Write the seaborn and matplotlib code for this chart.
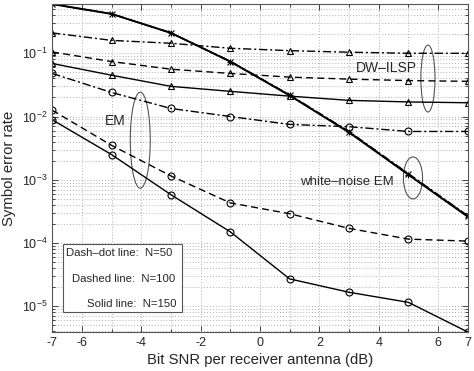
import matplotlib
matplotlib.use('Agg')
import matplotlib.pyplot as plt
import seaborn as sns
import numpy as np
import pandas as pd
from matplotlib.patches import Ellipse
from matplotlib.ticker import LogLocator, NullFormatter

snr = [-7, -5, -3, -1, 1, 3, 5, 7]

# DW-ILSP (triangles)
dw_n50 = [0.21, 0.16, 0.144, 0.12, 0.11, 0.104, 0.10, 0.10]
dw_n100 = [0.105, 0.074, 0.056, 0.048, 0.042, 0.039, 0.037, 0.036]
dw_n150 = [0.069, 0.045, 0.030, 0.025, 0.021, 0.018, 0.017, 0.0165]

# EM (circles)
em_n50 = [0.048, 0.024, 0.0134, 0.010, 0.0075, 0.0069, 0.0058, 0.0058]
em_n100 = [0.0126, 0.0035, 0.00115, 4.3e-4, 2.9e-4, 1.7e-4, 1.15e-4, 1.07e-4]
em_n150 = [0.0089, 0.0025, 5.8e-4, 1.5e-4, 2.7e-5, 1.66e-5, 1.15e-5, 3.9e-6]

# white-noise EM (nearly identical for all N)
wn_n50 = [0.60, 0.42, 0.21, 0.075, 0.0220, 0.0058, 0.00125, 2.7e-4]
wn_n100 = [0.60, 0.42, 0.21, 0.074, 0.0216, 0.0057, 0.00122, 2.65e-4]
wn_n150 = [0.60, 0.42, 0.21, 0.074, 0.0215, 0.0056, 0.0012, 2.6e-4]

xticks = [-7, -6, -4, -2, 0, 2, 4, 6, 7]

series = [
    ('dw50', dw_n50, (0, (6, 2, 1.5, 2)), '^', 1.0),
    ('dw100', dw_n100, (0, (5, 3)), '^', 1.0),
    ('dw150', dw_n150, '-', '^', 1.0),
    ('em50', em_n50, (0, (6, 2, 1.5, 2)), 'o', 1.0),
    ('em100', em_n100, (0, (5, 3)), 'o', 1.0),
    ('em150', em_n150, '-', 'o', 1.0),
    ('wn50', wn_n50, (0, (6, 2, 1.5, 2)), 'None', 1.0),
    ('wn100', wn_n100, (0, (5, 3)), 'x', 1.0),
    ('wn150', wn_n150, '-', '+', 1.4),
]

rows = []
for name, vals, _, _, _ in series:
    for x, y in zip(snr, vals):
        rows.append({'snr': x, 'ser': y, 'series': name})
df = pd.DataFrame(rows)

sns.set_style('white')
plt.rcParams['font.family'] = ['Liberation Sans', 'DejaVu Sans']
plt.rcParams['mathtext.fontset'] = 'custom'
plt.rcParams['mathtext.rm'] = 'Liberation Sans'

fig = plt.figure(figsize=(4.74, 3.71), dpi=100)
ax = fig.add_axes([0.110, 0.105, 0.877, 0.884])

for name, _, ls, mk, lw in series:
    sub = df[df['series'] == name]
    sns.lineplot(data=sub, x='snr', y='ser', ax=ax, color='black',
                 linestyle=ls, marker=mk, markersize=5,
                 markerfacecolor='none', markeredgecolor='black',
                 markeredgewidth=0.8, linewidth=lw, legend=False)

ax.set_yscale('log')
ax.set_xlim(-7, 7)
ax.set_ylim(3.9e-6, 0.6)
ax.set_xticks(xticks)
ax.set_xticklabels([str(t) for t in xticks])
ax.set_xticks(np.arange(-7, 8, 1), minor=True)
ax.yaxis.set_major_locator(LogLocator(base=10, numticks=10))
ax.yaxis.set_minor_locator(LogLocator(base=10, subs=np.arange(2, 10), numticks=20))
ax.yaxis.set_minor_formatter(NullFormatter())
ax.grid(True, which='both', color='#b0b0b0', linestyle=(0, (1, 2)), linewidth=0.7)
ax.tick_params(axis='both', which='major', labelsize=9, direction='in',
               length=4, width=0.6, left=True, bottom=True, top=True, right=True)
ax.tick_params(axis='both', which='minor', direction='in', length=2,
               left=True, bottom=True, top=True, right=True)
for s in ax.spines.values():
    s.set_color('#555555')
    s.set_linewidth(0.8)

ax.set_xlabel('Bit SNR per receiver antenna (dB)', fontsize=10.7, labelpad=3)
ax.set_ylabel('Symbol error rate', fontsize=10.7, labelpad=4)

# annotation ellipses (axes fraction)
for cx, cy, w, h in [(0.212, 0.585, 0.048, 0.293),
                     (0.904, 0.773, 0.034, 0.204),
                     (0.868, 0.470, 0.046, 0.128)]:
    ax.add_patch(Ellipse((cx, cy), w, h, transform=ax.transAxes,
                         fill=False, edgecolor='#555555', linewidth=0.8))

ax.text(0.152, 0.645, 'EM', transform=ax.transAxes, fontsize=10, ha='center', va='center')
ax.text(0.805, 0.805, 'DW\u2013ILSP', transform=ax.transAxes, fontsize=10, ha='center', va='center')
ax.text(0.710, 0.457, 'white\u2013noise EM', transform=ax.transAxes, fontsize=9.5, ha='center', va='center')

# line-style key box
bx0, by0 = (63 - 52) / 416, 1 - (312 - 4) / 328
ax.add_patch(plt.Rectangle((bx0, by0), (182 - 63) / 416, (312 - 244) / 328,
                           transform=ax.transAxes, facecolor='white',
                           edgecolor='#555555', linewidth=0.8, zorder=5))
for label, px, py in [('Dash\u2013dot line:  N=50', 66, 253),
                      ('Dashed line:  N=100', 72, 279),
                      ('Solid line:  N=150', 87, 304)]:
    ax.text((px - 52) / 416, 1 - (py - 4) / 328, label, transform=ax.transAxes,
            fontsize=8.2, ha='left', va='center', zorder=6)

fig.savefig('out.png', dpi=100)
